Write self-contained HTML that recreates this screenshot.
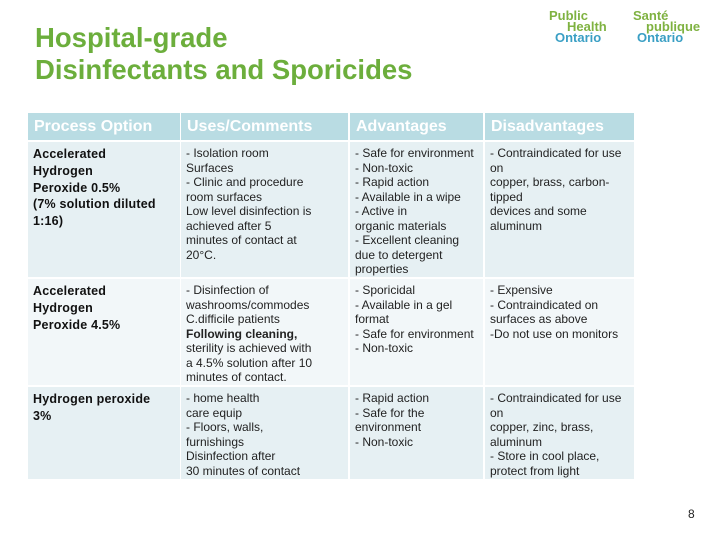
<!DOCTYPE html>
<html><head><meta charset="utf-8"><style>
body{margin:0;width:720px;height:540px;background:#fff;position:relative;overflow:hidden;font-family:"Liberation Sans",sans-serif}
.t{position:absolute;left:35px;color:#6cae3c;font-size:27.5px;font-weight:bold;line-height:32px}
.c{position:absolute;box-sizing:border-box;padding:4px 5px;font-size:12px;line-height:14.5px;color:#222;white-space:nowrap}
.h{background:#b9dce3;color:#fff;font-weight:bold;font-size:16px;line-height:27px;padding:0 6px}
.a{background:#e6f0f3}.b{background:#f2f7f9}
.p{font-weight:bold;font-size:12.5px;line-height:16.8px;letter-spacing:.2px;color:#111}
.logo{position:absolute;font-weight:bold;font-size:13px;line-height:11px}
</style></head><body>
<div class="t" style="top:22px">Hospital-grade<br>Disinfectants and Sporicides</div>
<div class="logo" style="left:549px;top:10px"><span style="color:#7fb241">Public</span><br><span style="color:#7fb241;padding-left:18px">Health</span><br><span style="color:#3a9fc4;padding-left:6px">Ontario</span></div>
<div class="logo" style="left:633px;top:10px"><span style="color:#7fb241">Santé</span><br><span style="color:#7fb241;padding-left:13px">publique</span><br><span style="color:#3a9fc4;padding-left:4px">Ontario</span></div>
<div>
<div class="c h" style="left:28px;top:113px;width:152px;height:27px">Process Option</div>
<div class="c h" style="left:181px;top:113px;width:167px;height:27px">Uses/Comments</div>
<div class="c h" style="left:350px;top:113px;width:133px;height:27px">Advantages</div>
<div class="c h" style="left:485px;top:113px;width:149px;height:27px">Disadvantages</div>

<div class="c a p" style="left:28px;top:142px;width:152px;height:135px;padding-top:4px">Accelerated<br>Hydrogen<br>Peroxide 0.5%<br>(7%  solution diluted<br>1:16)</div>
<div class="c a" style="left:181px;top:142px;width:167px;height:135px">- Isolation room<br>Surfaces<br>- Clinic and procedure<br>room surfaces<br>Low level disinfection is<br>achieved after 5<br>minutes of contact at<br>20°C.</div>
<div class="c a" style="left:350px;top:142px;width:133px;height:135px">- Safe for environment<br>- Non-toxic<br>- Rapid action<br>- Available in a wipe<br>- Active  in<br>organic materials<br>- Excellent cleaning<br>due to detergent<br>properties</div>
<div class="c a" style="left:485px;top:142px;width:149px;height:135px">- Contraindicated for use<br>on<br>copper, brass, carbon-<br>tipped<br>devices and some<br>aluminum</div>

<div class="c b p" style="left:28px;top:279px;width:152px;height:106px;padding-top:4px">Accelerated<br>Hydrogen<br>Peroxide 4.5%</div>
<div class="c b" style="left:181px;top:279px;width:167px;height:106px">- Disinfection of<br>washrooms/commodes<br>C.difficile patients<br><b>Following cleaning,</b><br>sterility is achieved with<br>a 4.5% solution after 10<br>minutes of contact.</div>
<div class="c b" style="left:350px;top:279px;width:133px;height:106px">- Sporicidal<br>- Available in a gel<br>format<br>- Safe for environment<br>- Non-toxic</div>
<div class="c b" style="left:485px;top:279px;width:149px;height:106px">- Expensive<br>- Contraindicated on<br>surfaces as above<br>-Do not use on monitors</div>

<div class="c a p" style="left:28px;top:387px;width:152px;height:92px;padding-top:4px">Hydrogen peroxide<br>3%</div>
<div class="c a" style="left:181px;top:387px;width:167px;height:92px">- home health<br>care equip<br>- Floors, walls,<br>furnishings<br>Disinfection after<br>30 minutes of contact</div>
<div class="c a" style="left:350px;top:387px;width:133px;height:92px">- Rapid action<br>- Safe for the<br>environment<br>- Non-toxic</div>
<div class="c a" style="left:485px;top:387px;width:149px;height:92px">- Contraindicated for use<br>on<br>copper, zinc, brass,<br>aluminum<br>- Store in cool place,<br>protect from light</div>
</div>
<div style="position:absolute;left:688px;top:507px;font-size:12px;color:#222">8</div>
</body></html>
